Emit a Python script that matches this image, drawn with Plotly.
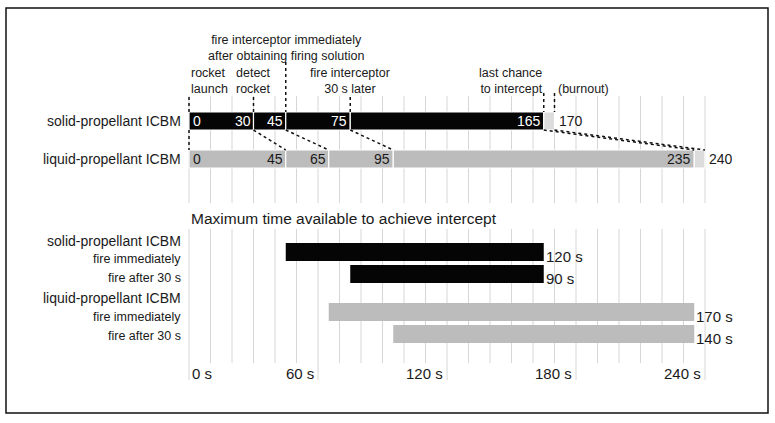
import plotly.graph_objects as go

# ---------------- data ----------------
missiles = ["solid-propellant ICBM", "liquid-propellant ICBM"]
solid_events = [0, 30, 45, 75, 165]        # launch, detect, fire now, fire +30 s, last chance
solid_burnout = 170
liquid_events = [0, 45, 65, 95, 235]
liquid_burnout = 240

window_labels = ["fire immediately", "fire after 30 s"]
solid_window_start = [45, 75]
solid_window_end = [165, 165]
liquid_window_start = [65, 95]
liquid_window_end = [235, 235]

tick_values = [0, 60, 120, 180, 240]
tick_labels = ["0 s", "60 s", "120 s", "180 s", "240 s"]
grid_step = 10

event_notes = ["rocket<br>launch", "detect<br>rocket",
               "fire interceptor immediately<br>after obtaining firing solution",
               "fire interceptor<br>30 s later", "last chance<br>to intercept"]
burnout_note = "(burnout)"
section_title = "Maximum time available to achieve intercept"

# ---------------- styling / layout ----------------
W, H = 775, 423
X0PIX, X240PIX = 189, 705
scale = (X240PIX - X0PIX) / 240.0
xr = [-X0PIX / scale, (W - X0PIX) / scale]

BLACK = "#050505"
GRAY = "#bcbcbc"
LIGHT = "#dcdcdc"
TXT = "#1a1a1a"
FONT = "Liberation Sans, Arial, Helvetica, sans-serif"
BAR_H = 18

y_top = {"solid": 121, "liquid": 159}
y_bot = {"solid": [252, 274], "liquid": [312, 334]}
y_bot_head = {"solid": 241, "liquid": 298}
y_bot_lab = {"solid": [259, 278], "liquid": [317, 336]}

fig = go.Figure()
shapes = []
ann = []

# gridlines
for v in range(0, 241, grid_step):
    shapes.append(dict(type="line", xref="x", yref="y", x0=v, x1=v, y0=96, y1=203,
                       line=dict(color="#d6d6d6", width=1), layer="below"))
    shapes.append(dict(type="line", xref="x", yref="y", x0=v, x1=v, y0=229,
                       y1=380 if v % 60 == 0 else 363,
                       line=dict(color="#d6d6d6", width=1), layer="below"))


def timeline(events, burnout, yc, color, txtcolor):
    starts = events[:-1] + [events[-1]]
    ends = events[1:] + [burnout]
    cols = [color] * (len(events) - 1) + [LIGHT]
    fig.add_trace(go.Bar(orientation="h", y=[yc] * len(starts),
                         x=[e - s for s, e in zip(starts, ends)], base=starts,
                         width=BAR_H, marker=dict(color=cols, line=dict(color="white", width=1.2)),
                         showlegend=False, hoverinfo="skip"))
    ann.append(dict(x=events[0], y=yc, text=str(events[0]), xanchor="left", xshift=2,
                    font=dict(color=txtcolor, size=14)))
    for e in events[1:]:
        ann.append(dict(x=e, y=yc, text=str(e), xanchor="right", xshift=-1,
                        font=dict(color=txtcolor, size=14)))
    ann.append(dict(x=burnout, y=yc, text=str(burnout), xanchor="left", xshift=2,
                    font=dict(color=TXT, size=14)))


timeline(solid_events, solid_burnout, y_top["solid"], BLACK, "white")
timeline(liquid_events, liquid_burnout, y_top["liquid"], GRAY, TXT)

for name, key in zip(missiles, ["solid", "liquid"]):
    ann.append(dict(x=-2.8, y=y_top[key], text=name, xanchor="right",
                    font=dict(size=14, color=TXT)))

dot = dict(color="#111", width=1.5, dash="dot")
for e, ytop in zip(solid_events, [97, 97, 62, 97, 93]):
    shapes.append(dict(type="line", xref="x", yref="y", x0=e, x1=e, y0=ytop, y1=112, line=dot))
shapes.append(dict(type="line", xref="x", yref="y", x0=solid_burnout, x1=solid_burnout,
                   y0=93, y1=112, line=dot))
yb, yt = 130, 150
shapes.append(dict(type="line", xref="x", yref="y", x0=solid_events[0], x1=liquid_events[0],
                   y0=yb, y1=yt, line=dot))
for s, l in zip(solid_events[1:], liquid_events[1:]):
    shapes.append(dict(type="line", xref="x", yref="y", x0=s, x1=l, y0=yb, y1=yt, line=dot))
shapes.append(dict(type="line", xref="x", yref="y", x0=solid_burnout, x1=liquid_burnout,
                   y0=yb, y1=yt, line=dot))

nf = dict(size=12.5, color=TXT)
ann.append(dict(x=solid_events[0], y=81, text=event_notes[0], xanchor="left", align="left", font=nf))
ann.append(dict(x=solid_events[1], y=81, text=event_notes[1], xanchor="center", align="center", font=nf))
ann.append(dict(x=solid_events[2], y=48, text=event_notes[2], xanchor="center", align="center", font=nf))
ann.append(dict(x=solid_events[3], y=81, text=event_notes[3], xanchor="center", align="center", font=nf))
ann.append(dict(x=solid_events[4], y=81, text=event_notes[4], xanchor="right", align="right",
                xshift=1, font=nf))
ann.append(dict(x=solid_burnout, y=89, text=burnout_note, xanchor="left", xshift=1, font=nf))

ann.append(dict(x=0, y=218, text=section_title, xanchor="left", font=dict(size=15.5, color=TXT)))


def windows(starts, ends, ys, color):
    fig.add_trace(go.Bar(orientation="h", y=ys, x=[e - s for s, e in zip(starts, ends)],
                         base=starts, width=BAR_H, marker=dict(color=color, line=dict(width=0)),
                         showlegend=False, hoverinfo="skip"))
    for s, e, yc in zip(starts, ends, ys):
        ann.append(dict(x=e, y=yc + 4, text=f"{e - s} s", xanchor="left", xshift=0,
                        font=dict(size=15, color=TXT)))


windows(solid_window_start, solid_window_end, y_bot["solid"], BLACK)
windows(liquid_window_start, liquid_window_end, y_bot["liquid"], GRAY)

for name, key in zip(missiles, ["solid", "liquid"]):
    ann.append(dict(x=-2.8, y=y_bot_head[key], text=name, xanchor="right", font=dict(size=14, color=TXT)))
    for lab, yl in zip(window_labels, y_bot_lab[key]):
        ann.append(dict(x=-2.8, y=yl, text=lab, xanchor="right", font=dict(size=12.5, color=TXT)))

for v, t in zip(tick_values, tick_labels):
    if v == 0:
        ann.append(dict(x=v, y=373, text=t, xanchor="left", xshift=1, font=dict(size=15, color=TXT)))
    else:
        ann.append(dict(x=v, y=373, text=t, xanchor="right", xshift=-2, font=dict(size=15, color=TXT)))

for a in ann:
    a.setdefault("xref", "x")
    a.setdefault("yref", "y")
    a.setdefault("yanchor", "middle")
    a["showarrow"] = False

shapes.append(dict(type="rect", xref="paper", yref="paper", x0=6 / W, x1=768 / W,
                   y0=1 - 413 / H, y1=1 - 8 / H, line=dict(color="#111", width=1.5)))

fig.update_layout(
    width=W, height=H, autosize=False,
    margin=dict(l=0, r=0, t=0, b=0, pad=0),
    paper_bgcolor="white", plot_bgcolor="white",
    font=dict(family=FONT, color=TXT),
    barmode="overlay",
    xaxis=dict(range=xr, visible=False, fixedrange=True),
    yaxis=dict(range=[H, 0], visible=False, fixedrange=True),
    shapes=shapes, annotations=ann,
)

fig.write_html("out.html", config={"displayModeBar": False},
               post_script="document.body.style.margin='0';document.body.style.overflow='hidden';")
